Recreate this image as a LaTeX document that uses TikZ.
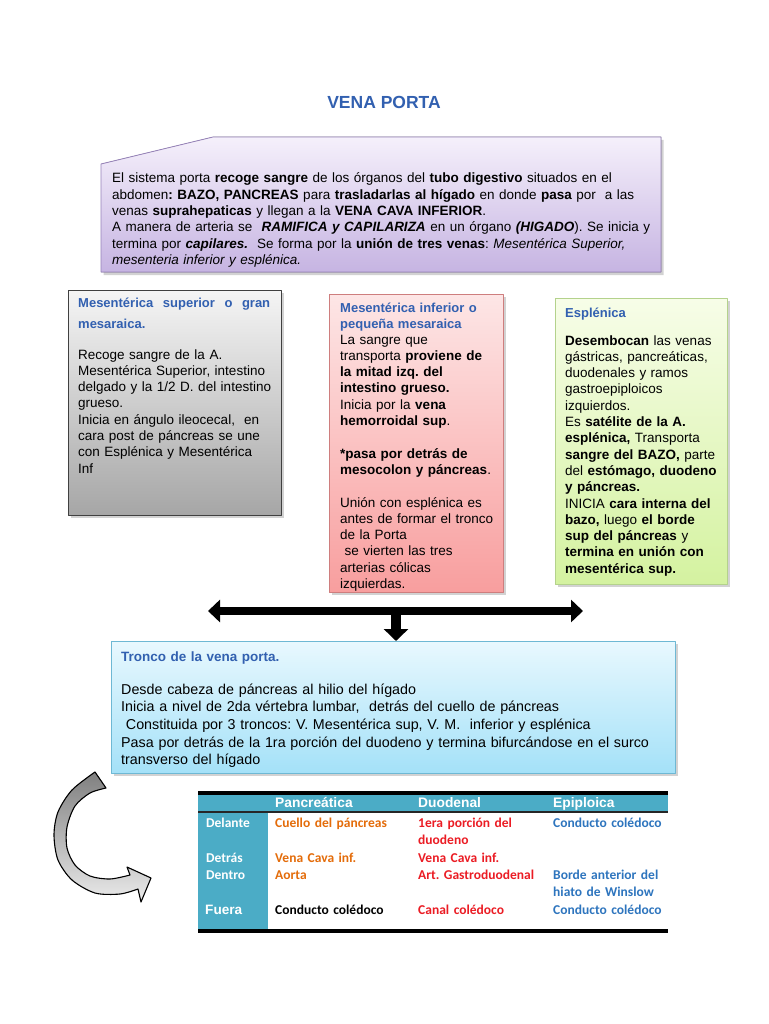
\documentclass[tikz,border=0pt]{standalone}
\usepackage{fontspec}
\setmainfont{Liberation Sans}
\newfontfamily\calib{Carlito}
\usetikzlibrary{arrows.meta,shadows}
\frenchspacing
\definecolor{titblue}{RGB}{50,96,176}
\definecolor{tabteal}{RGB}{75,172,198}
\definecolor{corange}{RGB}{228,108,10}
\definecolor{cred}{RGB}{235,28,36}
\definecolor{cblue}{RGB}{46,117,190}
\definecolor{lilatop}{RGB}{245,240,251}
\definecolor{lilabot}{RGB}{198,180,226}
\definecolor{lilaedge}{RGB}{150,130,185}
\definecolor{rosatop}{RGB}{253,230,230}
\definecolor{rosabot}{RGB}{248,158,158}
\definecolor{verdetop}{RGB}{247,253,232}
\definecolor{verdebot}{RGB}{212,242,160}
\definecolor{verdeedge}{RGB}{180,210,140}
\definecolor{azultop}{RGB}{232,248,254}
\definecolor{azulbot}{RGB}{164,225,248}
\definecolor{azuledge}{RGB}{110,184,212}
\begin{document}
\begin{tikzpicture}[x=1pt,y=-1pt,>=Triangle,line join=round,
    box/.style={draw,anchor=north west,inner sep=0pt,line width=0.8pt},
    sombra/.style={drop shadow={shadow xshift=2.5pt,shadow yshift=-3pt,opacity=.35}},
    txt/.style={anchor=base west,inner sep=0pt,text width=#1,align=left,font=\fontsize{13.5pt}{16.3pt}\selectfont},
    tit/.style={anchor=base west,inner sep=0pt,text width=#1,align=left,text=titblue,font=\fontsize{13pt}{16pt}\selectfont\bfseries},
    celda/.style={anchor=base west,inner sep=0pt,text width=125pt,align=left,font=\calib\bfseries\fontsize{13.5pt}{17.5pt}\selectfont},
    cabeza/.style={anchor=base west,inner sep=0pt,text=white,font=\fontsize{13.8pt}{16pt}\selectfont\bfseries}]
  \useasboundingbox[fill=white] (0,0) rectangle (768,1024);
  \node[font=\fontsize{17.5pt}{20pt}\selectfont\bfseries,text=titblue] (titulo) at (384,102) {VENA PORTA};
  % cuadro de arriba
  \filldraw[draw=lilaedge,line width=0.8pt,top color=lilatop,bottom color=lilabot,sombra]
    (101,164) -- (213,137) -- (661,137) -- (661,272) -- (101,272) -- cycle;
  \node[txt=560pt] (intro) at (112,183) {El sistema porta \textbf{recoge sangre} de los órganos del \textbf{tubo digestivo} situados en el\\
    abdomen\textbf{: BAZO, PANCREAS} para \textbf{trasladarlas al hígado} en donde \textbf{pasa} por~ a las\\
    venas \textbf{suprahepaticas} y llegan a la \textbf{VENA CAVA INFERIOR}.\\
    A manera de arteria se~ \textbf{\textit{RAMIFICA y CAPILARIZA}} en un órgano \textbf{\textit{(HIGADO}}). Se inicia y\\
    termina por \textbf{\textit{capilares.}}~ Se forma por la \textbf{unión de tres venas}: \textit{Mesentérica Superior,}\\
    \textit{mesenteria inferior y esplénica.}};
  % las tres venas
  \node[box,draw=black!75,minimum width=213pt,minimum height=225pt,top color=black!4,bottom color=black!35,sombra] (gris) at (68,290) {};
  \node[tit=192pt,font=\fontsize{13pt}{21pt}\selectfont\bfseries] (gristit) at (78,307) {Mesentérica\hfill superior\hfill o\hfill gran\\mesaraica.};
  \node[txt=200pt] (grisbody) at (78,359) {Recoge sangre de la A.\\
    Mesentérica Superior, intestino\\
    delgado y la 1/2 D. del intestino\\
    grueso.\\
    Inicia en ángulo ileocecal,~ en\\
    cara post de páncreas se une\\
    con Esplénica y Mesentérica\\
    Inf};
  \node[box,draw=red!45!gray!70,minimum width=174pt,minimum height=298pt,top color=rosatop,bottom color=rosabot,sombra] (rosa) at (329,294) {};
  \node[tit=170pt] (rosatit) at (340,312) {Mesentérica inferior o\\pequeña mesaraica};
  \begin{scope}
    \clip (rosa.north west) rectangle (rosa.south east);
    \node[txt=165pt] (rosabody) at (340,344) {La sangre que\\
      transporta \textbf{proviene de}\\
      \textbf{la mitad izq. del}\\
      \textbf{intestino grueso.}\\
      Inicia por la \textbf{vena}\\
      \textbf{hemorroidal sup}.\\[16.3pt]
      \textbf{*pasa por detrás de}\\
      \textbf{mesocolon y páncreas}.\\[16.3pt]
      Unión con esplénica es\\
      antes de formar el tronco\\
      de la Porta\\
      ~se vierten las tres\\
      arterias cólicas\\
      izquierdas.};
  \end{scope}
  \node[box,draw=verdeedge,minimum width=172pt,minimum height=286pt,top color=verdetop,bottom color=verdebot,sombra] (verde) at (555,298) {};
  \node[tit=150pt] (verdetit) at (565,317) {Esplénica};
  \node[txt=165pt] (verdebody) at (565,345) {\textbf{Desembocan} las venas\\
    gástricas, pancreáticas,\\
    duodenales y ramos\\
    gastroepiploicos\\
    izquierdos.\\
    Es \textbf{satélite de la A.}\\
    \textbf{esplénica,} Transporta\\
    \textbf{sangre del BAZO,} parte\\
    del \textbf{estómago, duodeno}\\
    \textbf{y páncreas.}\\
    INICIA \textbf{cara interna del}\\
    \textbf{bazo,} luego \textbf{el borde}\\
    \textbf{sup del páncreas} y\\
    \textbf{termina en unión con}\\
    \textbf{mesentérica sup.}};
  % tronco
  \node[box,draw=azuledge,minimum width=564pt,minimum height=132pt,top color=azultop,bottom color=azulbot,sombra] (tronco) at (111,641) {};
  \node[tit=300pt,font=\fontsize{13.5pt}{16pt}\selectfont\bfseries] (troncotit) at (121,661) {Tronco de la vena porta.};
  \node[txt=560pt,font=\fontsize{14.3pt}{17.7pt}\selectfont] (troncobody) at (121,694) {Desde cabeza de páncreas al hilio del hígado\\
    Inicia a nivel de 2da vértebra lumbar,~ detrás del cuello de páncreas\\
    ~Constituida por 3 troncos: V. Mesentérica sup, V. M.~ inferior y esplénica\\
    Pasa por detrás de la 1ra porción del duodeno y termina bifurcándose en el surco\\
    transverso del hígado};
  % flechas
  \coordinate (barL) at (208,611);
  \coordinate (barR) at (583,611);
  \coordinate (barM) at (396,611);
  \draw[line width=8pt,{Triangle[length=12pt,width=22pt]}-{Triangle[length=12pt,width=22pt]}] (barL) -- (barR);
  \draw[line width=10pt,-{Triangle[length=12pt,width=24pt]}] (barM) -- (barM |- tronco.north);
  \filldraw[draw=black,line width=1.1pt,top color=black!50,bottom color=black!8]
    (95,772) -- plot[smooth] coordinates {(95,772) (72,790) (58,812) (54,835) (58,860) (72,880) (95,893) (120,894) (138,889)}
    -- (141,902) -- (151,878) -- (127,867) -- (130,875)
    -- plot[smooth] coordinates {(130,875) (110,879) (90,876) (75,865) (67,848) (67,827) (75,806) (90,793) (106,788)} -- cycle;
  % tabla
  \fill[tabteal] (198,793) rectangle (668,812);
  \fill[tabteal] (198,812) rectangle (268,930);
  \draw[line width=3.5pt] (198,793) -- (668,793);
  \draw[line width=1.5pt,black!85] (198,812) -- (668,812);
  \draw[line width=3.5pt] (198,931) -- (668,931);
  \node[cabeza] (hpan) at (275,807) {Pancreática};
  \node[cabeza] (hduo) at (418,807) {Duodenal};
  \node[cabeza] (hepi) at (553,807) {Epiploica};
  \node[celda,text width=60pt,text=white] (rdel) at (206,827) {Delante};
  \node[celda,text width=60pt,text=white] (rdet) at (206,862) {Detrás};
  \node[celda,text width=60pt,text=white] (rden) at (206,879) {Dentro};
  \node[cabeza,font=\fontsize{13.6pt}{16pt}\selectfont\bfseries] (rfue) at (205,914) {Fuera};
  \node[celda,text=corange] (pdel) at (275,827) {Cuello del páncreas};
  \node[celda,text=corange] (pdet) at (275,862) {Vena Cava inf.};
  \node[celda,text=corange] (pden) at (275,879) {Aorta};
  \node[celda,text=black] (pfue) at (275,914) {Conducto colédoco};
  \node[celda,text=cred] (ddel) at (418,827) {1era porción del\\duodeno};
  \node[celda,text=cred] (ddet) at (418,862) {Vena Cava inf.};
  \node[celda,text=cred] (dden) at (418,879) {Art. Gastroduodenal};
  \node[celda,text=cred] (dfue) at (418,914) {Canal colédoco};
  \node[celda,text=cblue] (edel) at (553,827) {Conducto colédoco};
  \node[celda,text=cblue] (eden) at (553,879) {Borde anterior del\\hiato de Winslow};
  \node[celda,text=cblue] (efue) at (553,914) {Conducto colédoco};
\end{tikzpicture}
\end{document}
